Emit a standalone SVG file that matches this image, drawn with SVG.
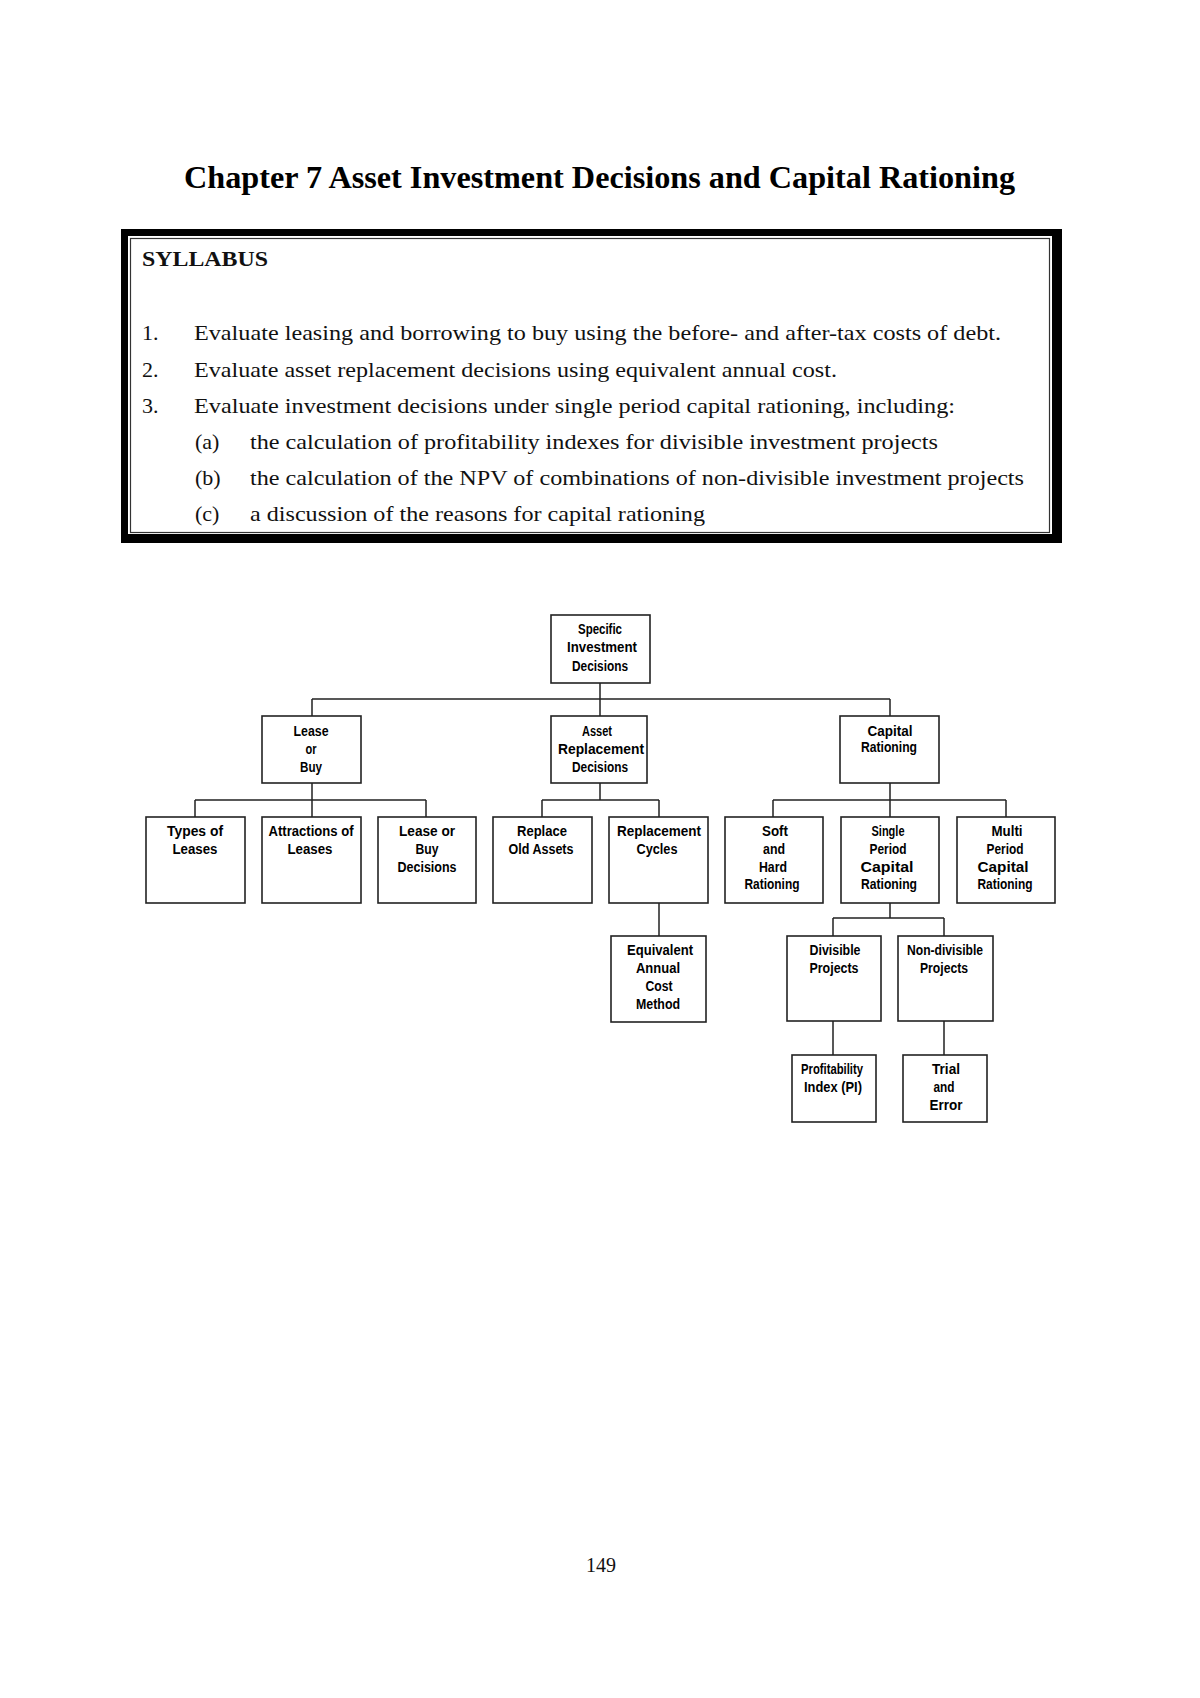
<svg xmlns="http://www.w3.org/2000/svg" width="1200" height="1698" viewBox="0 0 1200 1698">
<style>
.bg{fill:#fff}
.title{font-family:"Liberation Serif","Times New Roman",serif;font-weight:bold;font-size:32px;fill:#000}
.body{font-family:"Liberation Serif","Times New Roman",serif;font-size:22px;fill:#111}
.pg{font-family:"Liberation Serif","Times New Roman",serif;font-size:20px;fill:#111}
.box{fill:#fff;stroke:#222;stroke-width:1.6}
.lbl{font-family:"Liberation Sans",Arial,sans-serif;font-weight:bold;font-size:14px;fill:#000;text-anchor:middle}
.con{fill:none;stroke:#222;stroke-width:1.5}
</style>
<rect class="bg" x="0" y="0" width="1200" height="1698"/>
<text class="title" x="184" y="188" textLength="831" lengthAdjust="spacingAndGlyphs">Chapter 7 Asset Investment Decisions and Capital Rationing</text>
<g id="syllabus">
<rect x="121" y="229" width="941" height="314" fill="#000"/>
<rect x="128" y="236" width="924" height="298" fill="#fff"/>
<rect x="130.5" y="238.5" width="919" height="294" fill="none" stroke="#333" stroke-width="1.2"/>
<text class="body" x="142" y="266" font-weight="bold" textLength="126" lengthAdjust="spacingAndGlyphs">SYLLABUS</text>
<text class="body" x="142" y="340">1.</text>
<text class="body" x="194" y="340" textLength="807" lengthAdjust="spacingAndGlyphs">Evaluate leasing and borrowing to buy using the before- and after-tax costs of debt.</text>
<text class="body" x="142" y="377">2.</text>
<text class="body" x="194" y="377" textLength="643" lengthAdjust="spacingAndGlyphs">Evaluate asset replacement decisions using equivalent annual cost.</text>
<text class="body" x="142" y="413">3.</text>
<text class="body" x="194" y="413" textLength="761" lengthAdjust="spacingAndGlyphs">Evaluate investment decisions under single period capital rationing, including:</text>
<text class="body" x="195" y="449">(a)</text>
<text class="body" x="250" y="449" textLength="688" lengthAdjust="spacingAndGlyphs">the calculation of profitability indexes for divisible investment projects</text>
<text class="body" x="195" y="485">(b)</text>
<text class="body" x="250" y="485" textLength="774" lengthAdjust="spacingAndGlyphs">the calculation of the NPV of combinations of non-divisible investment projects</text>
<text class="body" x="195" y="521">(c)</text>
<text class="body" x="250" y="521" textLength="455" lengthAdjust="spacingAndGlyphs">a discussion of the reasons for capital rationing</text>
</g>
<g id="connectors">
<path class="con" d="M600 683V699M312 699H890M312 699V716M600 699V716M890 699V716"/>
<path class="con" d="M312 783V800M195 800H426M195 800V817M312 800V817M426 800V817"/>
<path class="con" d="M600 783V800M542 800H659M542 800V817M659 800V817"/>
<path class="con" d="M890 783V800M773 800H1006M773 800V817M890 800V817M1006 800V817"/>
<path class="con" d="M659 903V936"/>
<path class="con" d="M890 903V918M833 918H944M833 918V936M944 918V936"/>
<path class="con" d="M833 1021V1055M944 1021V1055"/>
</g>
<g id="n-specific"><rect class="box" x="551" y="615" width="99" height="68"/>
<text class="lbl" x="600" y="634" textLength="44" lengthAdjust="spacingAndGlyphs">Specific</text>
<text class="lbl" x="602" y="652" textLength="70" lengthAdjust="spacingAndGlyphs">Investment</text>
<text class="lbl" x="600" y="671" textLength="56" lengthAdjust="spacingAndGlyphs">Decisions</text></g>
<g id="n-lease"><rect class="box" x="262" y="716" width="99" height="67"/>
<text class="lbl" x="311" y="736" textLength="35" lengthAdjust="spacingAndGlyphs">Lease</text>
<text class="lbl" x="311" y="754" textLength="11" lengthAdjust="spacingAndGlyphs">or</text>
<text class="lbl" x="311" y="772" textLength="22" lengthAdjust="spacingAndGlyphs">Buy</text></g>
<g id="n-asset"><rect class="box" x="551" y="716" width="96" height="67"/>
<text class="lbl" x="597" y="736" textLength="30" lengthAdjust="spacingAndGlyphs">Asset</text>
<text class="lbl" x="601" y="754" textLength="86" lengthAdjust="spacingAndGlyphs">Replacement</text>
<text class="lbl" x="600" y="772" textLength="56" lengthAdjust="spacingAndGlyphs">Decisions</text></g>
<g id="n-capital"><rect class="box" x="840" y="716" width="99" height="67"/>
<text class="lbl" x="890" y="736" textLength="45" lengthAdjust="spacingAndGlyphs">Capital</text>
<text class="lbl" x="889" y="752" textLength="56" lengthAdjust="spacingAndGlyphs">Rationing</text></g>
<g id="n-types"><rect class="box" x="146" y="817" width="99" height="86"/>
<text class="lbl" x="195" y="836" textLength="56" lengthAdjust="spacingAndGlyphs">Types of</text>
<text class="lbl" x="195" y="854" textLength="45" lengthAdjust="spacingAndGlyphs">Leases</text></g>
<g id="n-attractions"><rect class="box" x="262" y="817" width="99" height="86"/>
<text class="lbl" x="311" y="836" textLength="85" lengthAdjust="spacingAndGlyphs">Attractions of</text>
<text class="lbl" x="310" y="854" textLength="45" lengthAdjust="spacingAndGlyphs">Leases</text></g>
<g id="n-lobd"><rect class="box" x="378" y="817" width="98" height="86"/>
<text class="lbl" x="427" y="836" textLength="56" lengthAdjust="spacingAndGlyphs">Lease or</text>
<text class="lbl" x="427" y="854" textLength="23" lengthAdjust="spacingAndGlyphs">Buy</text>
<text class="lbl" x="427" y="872" textLength="59" lengthAdjust="spacingAndGlyphs">Decisions</text></g>
<g id="n-replace"><rect class="box" x="493" y="817" width="99" height="86"/>
<text class="lbl" x="542" y="836" textLength="50" lengthAdjust="spacingAndGlyphs">Replace</text>
<text class="lbl" x="541" y="854" textLength="65" lengthAdjust="spacingAndGlyphs">Old Assets</text></g>
<g id="n-cycles"><rect class="box" x="609" y="817" width="99" height="86"/>
<text class="lbl" x="659" y="836" textLength="84" lengthAdjust="spacingAndGlyphs">Replacement</text>
<text class="lbl" x="657" y="854" textLength="41" lengthAdjust="spacingAndGlyphs">Cycles</text></g>
<g id="n-soft"><rect class="box" x="725" y="817" width="98" height="86"/>
<text class="lbl" x="775" y="836" textLength="26" lengthAdjust="spacingAndGlyphs">Soft</text>
<text class="lbl" x="774" y="854" textLength="22" lengthAdjust="spacingAndGlyphs">and</text>
<text class="lbl" x="773" y="872" textLength="28" lengthAdjust="spacingAndGlyphs">Hard</text>
<text class="lbl" x="772" y="889" textLength="55" lengthAdjust="spacingAndGlyphs">Rationing</text></g>
<g id="n-single"><rect class="box" x="841" y="817" width="98" height="86"/>
<text class="lbl" x="888" y="836" textLength="33" lengthAdjust="spacingAndGlyphs">Single</text>
<text class="lbl" x="888" y="854" textLength="37" lengthAdjust="spacingAndGlyphs">Period</text>
<text class="lbl" x="887" y="872" textLength="53" lengthAdjust="spacingAndGlyphs">Capital</text>
<text class="lbl" x="889" y="889" textLength="56" lengthAdjust="spacingAndGlyphs">Rationing</text></g>
<g id="n-multi"><rect class="box" x="957" y="817" width="98" height="86"/>
<text class="lbl" x="1007" y="836" textLength="31" lengthAdjust="spacingAndGlyphs">Multi</text>
<text class="lbl" x="1005" y="854" textLength="37" lengthAdjust="spacingAndGlyphs">Period</text>
<text class="lbl" x="1003" y="872" textLength="51" lengthAdjust="spacingAndGlyphs">Capital</text>
<text class="lbl" x="1005" y="889" textLength="55" lengthAdjust="spacingAndGlyphs">Rationing</text></g>
<g id="n-equivalent"><rect class="box" x="611" y="936" width="95" height="86"/>
<text class="lbl" x="660" y="955" textLength="66" lengthAdjust="spacingAndGlyphs">Equivalent</text>
<text class="lbl" x="658" y="973" textLength="44" lengthAdjust="spacingAndGlyphs">Annual</text>
<text class="lbl" x="659" y="991" textLength="27" lengthAdjust="spacingAndGlyphs">Cost</text>
<text class="lbl" x="658" y="1009" textLength="44" lengthAdjust="spacingAndGlyphs">Method</text></g>
<g id="n-divisible"><rect class="box" x="787" y="936" width="94" height="85"/>
<text class="lbl" x="835" y="955" textLength="51" lengthAdjust="spacingAndGlyphs">Divisible</text>
<text class="lbl" x="834" y="973" textLength="49" lengthAdjust="spacingAndGlyphs">Projects</text></g>
<g id="n-nondivisible"><rect class="box" x="898" y="936" width="95" height="85"/>
<text class="lbl" x="945" y="955" textLength="76" lengthAdjust="spacingAndGlyphs">Non-divisible</text>
<text class="lbl" x="944" y="973" textLength="48" lengthAdjust="spacingAndGlyphs">Projects</text></g>
<g id="n-profitability"><rect class="box" x="792" y="1055" width="84" height="67"/>
<text class="lbl" x="832" y="1074" textLength="62" lengthAdjust="spacingAndGlyphs">Profitability</text>
<text class="lbl" x="833" y="1092" textLength="58" lengthAdjust="spacingAndGlyphs">Index (PI)</text></g>
<g id="n-trial"><rect class="box" x="903" y="1055" width="84" height="67"/>
<text class="lbl" x="946" y="1074" textLength="28" lengthAdjust="spacingAndGlyphs">Trial</text>
<text class="lbl" x="944" y="1092" textLength="21" lengthAdjust="spacingAndGlyphs">and</text>
<text class="lbl" x="946" y="1110" textLength="33" lengthAdjust="spacingAndGlyphs">Error</text></g>
<text class="pg" x="601" y="1572" text-anchor="middle">149</text>
</svg>
